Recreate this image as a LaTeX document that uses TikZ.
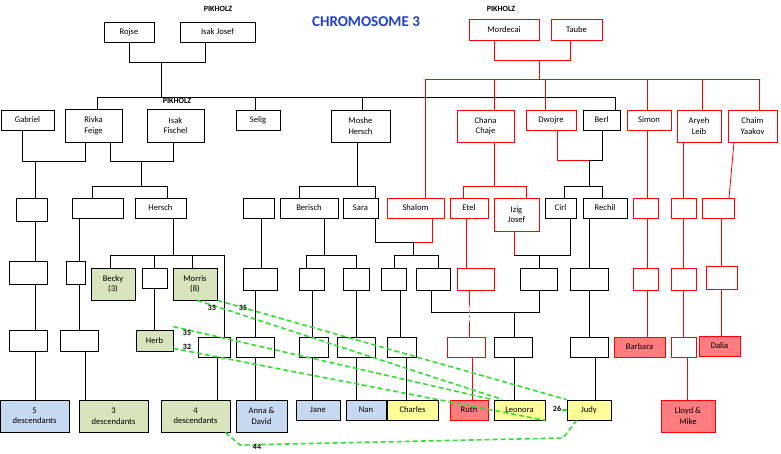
\documentclass[tikz,border=0pt]{standalone}
\usepackage{fontspec}
\setmainfont{Carlito}
\definecolor{fb}{HTML}{C6D9F1}
\definecolor{fg}{HTML}{D8E4BC}
\definecolor{fy}{HTML}{FFFF99}
\definecolor{fr}{HTML}{FF7C80}
\definecolor{gd}{HTML}{33DD33}
\definecolor{tb}{HTML}{1F3FCC}
\newcommand\bx[7][]{\node[box,#1,minimum width={(#5-#3)*1pt},minimum height={(#6-#4)*1pt}] (#2) at ({(#3+#5)/2},{(#4+#6)/2}) {#7};}
\begin{document}
\begin{tikzpicture}[x=1pt,y=-1pt,font=\fontsize{8.6}{10.5}\selectfont,
 box/.style={draw=black,fill=white,line width=0.8pt,inner sep=0pt,align=center},
 rb/.style={draw=red},
 k/.style={line width=0.8pt,black},
 r/.style={line width=0.8pt,red},
 g/.style={line width=1.6pt,gd,dash pattern=on 5pt off 3pt},
 lab/.style={font=\bfseries\fontsize{8}{9}\selectfont,inner sep=0pt}]
\useasboundingbox (0,0) rectangle (781,453);
% black tree
\draw[k] (129,42)--(129,62)--(205,62)--(205,42);
\draw[k] (161,62)--(161,97);
\draw[k] (97,110)--(97,97)--(615,97)--(615,110);
\draw[k] (255,97)--(255,110); \draw[k] (362,97)--(362,110);
\draw[k] (22,130)--(22,161)--(85,161)--(85,142); \draw[k] (35,161)--(35,198);
\draw[k] (110,142)--(110,161)--(173,161)--(173,142); \draw[k] (141,161)--(141,186);
\draw[k] (92,198)--(92,186)--(167,186)--(167,198);
\draw[k] (357,142)--(357,186); \draw[k] (299,198)--(299,186)--(375,186)--(375,198);
\draw[k] (35,221)--(35,261); \draw[k] (79,218)--(79,261);
\draw[k] (173,218)--(173,255); \draw[k] (110,268)--(110,255)--(224,255)--(224,337);
\draw[k] (154,255)--(154,268); \draw[k] (192,255)--(192,268);
\draw[k] (261,218)--(261,268);
\draw[k] (324,218)--(324,255); \draw[k] (306,268)--(306,255)--(356,255)--(356,268);
\draw[k] (375,218)--(375,242)--(413,242); \draw[r] (413,242)--(432,242)--(432,218);
\draw[k] (413,242)--(413,255); \draw[k] (394,268)--(394,255)--(438,255)--(438,268);
\draw[r] (466,218)--(466,268);
\draw[r] (514,231)--(514,255); \draw[k] (514,255)--(570,255)--(570,218); \draw[k] (539,255)--(539,268);
\draw[k] (589,218)--(589,268);
% red tree
\draw[r] (494,40)--(494,60)--(570,60)--(570,40); \draw[r] (539,60)--(539,79);
\draw[r] (425,198)--(425,79)--(759,79)--(759,110);
\draw[r] (494,79)--(494,110); \draw[r] (545,79)--(545,110); \draw[r] (647,79)--(647,110); \draw[r] (702,79)--(702,110);
\draw[r] (647,130)--(647,198); \draw[r] (683,142)--(683,198); \draw[r] (734,142)--(729,198);
\draw[r] (494,142)--(494,186); \draw[r] (463,198)--(463,186)--(526,186)--(526,198);
\draw[r] (557,130)--(557,160)--(589,160); \draw[k] (589,160)--(602,160)--(602,130);
\draw[k] (589,160)--(589,186); \draw[k] (564,198)--(564,186)--(602,186)--(602,198);
\draw[r] (647,218)--(647,268); \draw[r] (683,218)--(683,268); \draw[r] (721,218)--(721,266);
% row4 -> row5
\draw[k] (35,284)--(35,330); \draw[k] (79,284)--(79,330); \draw[k] (154,288)--(154,330);
\draw[k] (255,290)--(255,337); \draw[k] (312,290)--(312,337); \draw[k] (356,290)--(356,337); \draw[k] (400,290)--(400,337);
\draw[k] (431,290)--(431,312)--(539,312)--(539,290); \draw[k] (514,312)--(514,337);
\draw[r] (469,290)--(469,305); \draw[line width=0.8pt,red!55,dash pattern=on 3pt off 2pt] (469,305)--(469,322); \draw[r] (469,322)--(469,337);
\draw[k] (589,290)--(589,337);
\draw[r] (647,290)--(647,337); \draw[r] (683,290)--(683,337); \draw[r] (721,289)--(721,336);
% row5 -> row6
\draw[k] (35,351)--(35,400); \draw[k] (85,351)--(85,400); \draw[k] (217,357)--(217,400); \draw[k] (255,357)--(255,400);
\draw[k] (312,357)--(312,400); \draw[k] (356,357)--(356,400); \draw[k] (406,357)--(406,400);
\draw[r] (472,357)--(472,400); \draw[k] (514,357)--(514,400); \draw[k] (595,357)--(595,400); \draw[r] (687,357)--(687,400);
% boxes row 1
\bx{rojse}{104}{22}{154}{42}{Rojse}
\bx{isakjosef}{180}{22}{255}{42}{Isak Josef}
\bx[rb]{mordecai}{469}{19}{539}{40}{Mordecai}
\bx[rb]{taube}{551}{19}{602}{40}{Taube}
% row 2
\bx{gabriel}{1}{110}{54}{130}{Gabriel}
\bx{rivka}{65}{109}{122}{142}{Rivka\\Feige}
\bx{isakf}{147}{109}{204}{142}{Isak\\Fischel}
\bx{selig}{236}{110}{280}{130}{Selig}
\bx{moshe}{331}{110}{390}{142}{Moshe\\Hersch}
\bx[rb]{chana}{457}{110}{514}{142}{Chana\\Chaje}
\bx[rb]{dwojre}{526}{110}{576}{130}{Dwojre}
\bx{berl}{583}{110}{620}{130}{Berl}
\bx[rb]{simon}{627}{110}{671}{130}{Simon}
\bx[rb]{aryeh}{677}{110}{721}{142}{Aryeh\\Leib}
\bx[rb]{chaim}{728}{110}{777}{142}{Chaim\\Yaakov}
% row 3
\bx{c1}{16}{198}{47}{221}{}
\bx{c2}{72}{198}{123}{218}{}
\bx{hersch}{135}{198}{186}{218}{Hersch}
\bx{c3}{243}{198}{274}{218}{}
\bx{berisch}{280}{198}{338}{218}{Berisch}
\bx{sara}{343}{198}{378}{218}{Sara}
\bx[rb]{shalom}{387}{198}{444}{218}{Shalom}
\bx[rb]{etel}{450}{198}{488}{218}{Etel}
\bx[rb]{izig}{494}{198}{539}{231}{Izig\\Josef}
\bx{cirl}{545}{198}{576}{218}{Cirl}
\bx{rechil}{583}{198}{627}{218}{Rechil}
\bx[rb]{c4}{633}{198}{658}{218}{}
\bx[rb]{c5}{671}{198}{696}{218}{}
\bx[rb]{c6}{702}{198}{734}{218}{}
% row 4
\bx{d1}{9}{261}{47}{284}{}
\bx{d2}{66}{261}{85}{284}{}
\bx[fill=fg]{becky}{91}{268}{135}{300}{Becky\\(3)}
\bx{d3}{142}{268}{167}{288}{}
\bx[fill=fg]{morris}{173}{268}{217}{300}{Morris\\(8)}
\bx{d4}{243}{268}{277}{290}{}
\bx{d5}{299}{268}{324}{290}{}
\bx{d6}{343}{268}{369}{290}{}
\bx{d7}{381}{268}{406}{290}{}
\bx{d8}{416}{268}{450}{290}{}
\bx[rb]{d9}{457}{268}{494}{290}{}
\bx{d10}{520}{268}{557}{290}{}
\bx{d11}{570}{268}{608}{290}{}
\bx[rb]{d12}{633}{268}{658}{290}{}
\bx[rb]{d13}{671}{268}{696}{290}{}
\bx[rb]{d14}{706}{266}{737}{289}{}
% row 5
\bx{e1}{9}{330}{47}{351}{}
\bx{e2}{60}{330}{98}{351}{}
\bx[fill=fg]{herb}{136}{330}{173}{351}{Herb}
\bx{e3}{198}{337}{230}{357}{}
\bx{e4}{236}{337}{274}{357}{}
\bx{e5}{299}{337}{328}{357}{}
\bx{e6}{337}{337}{375}{357}{}
\bx{e7}{387}{337}{416}{357}{}
\bx[rb]{e8}{447}{337}{485}{357}{}
\bx{e9}{494}{337}{532}{357}{}
\bx{e10}{570}{337}{608}{357}{}
\bx[rb,fill=fr]{barbara}{614}{337}{665}{357}{Barbara}
\bx[rb]{e11}{671}{337}{696}{357}{}
\bx[rb,fill=fr]{dalia}{699}{336}{740}{356}{Dalia}
% row 6
\bx[fill=fb]{f1}{0}{400}{69}{432}{5\\descendants}
\bx[fill=fg]{f2}{79}{400}{148}{432}{3\\descendants}
\bx[fill=fg]{f3}{161}{400}{230}{432}{4\\descendants}
\bx[fill=fb]{anna}{236}{400}{287}{432}{Anna \&\\David}
\bx[fill=fb]{jane}{296}{400}{340}{420}{Jane}
\bx[fill=fb]{nan}{346}{400}{386}{420}{Nan}
\bx[fill=fy]{charles}{387}{400}{438}{420}{Charles}
\bx[rb,fill=fr]{ruth}{450}{400}{488}{420}{Ruth}
\bx[fill=fy]{leonora}{494}{400}{545}{420}{Leonora}
\bx[fill=fy]{judy}{567}{400}{611}{420}{Judy}
\bx[rb,fill=fr]{lloyd}{661}{400}{715}{432}{Lloyd \&\\Mike}
% green matches
\draw[g] (morris.south east) -- (judy.north west);
\draw[g] ([xshift=-20pt]morris.south east) -- ([xshift=9pt]leonora.north west);
\draw[g] ([yshift=3pt]herb.north east) -- ([xshift=-1pt]leonora.north west);
\draw[g] ([yshift=3pt]herb.south east) -- (leonora.south east);
\draw[g] ([xshift=-5pt]f3.south east) -- (240,445) -- (563,438) -- ([xshift=10pt]judy.south west);
\draw[g] (562,410) -- (judy.west);
\node[lab] at (212,308) {35};
\node[lab] at (243,308) {35};
\node[lab] at (187,333) {35};
\node[lab] at (187,347) {32};
\node[lab] at (257,447) {44};
\node[lab] at (557,409) {26};
% titles
\node[lab] at (218,9) {PIKHOLZ};
\node[lab] at (177,101) {PIKHOLZ};
\node[lab] at (501,9) {PIKHOLZ};
\node[font=\bfseries\fontsize{15}{17}\selectfont,text=tb] (title) at (366,22) {CHROMOSOME 3};
\end{tikzpicture}
\end{document}
